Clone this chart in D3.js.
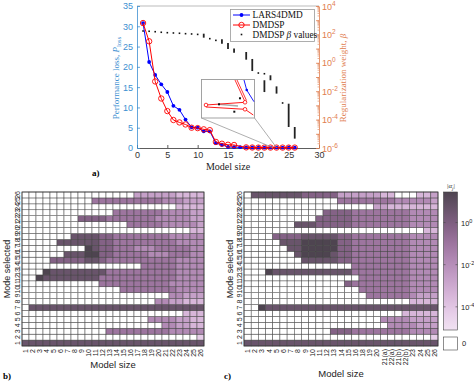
<!DOCTYPE html>
<html><head><meta charset="utf-8">
<script src="https://cdn.jsdelivr.net/npm/d3@7"></script>
<style>body{margin:0;background:#fff}svg{display:block}</style>
</head><body><svg id="c" width="474" height="382"></svg>
<script>
// ---------------- DATA ----------------
const larsSizes = [1,2,3,4,5,6,7,8,9,10,11,12,13,14,15,16,17,18,19,20,21,22,23,24,25,26];
const larsLoss  = [30.8,21.2,18.0,15.7,13.8,10.4,9.4,7.0,5.1,5.0,4.1,4.1,1.2,0.8,0.25,0.2,0.2,0.15,0.12,0.1,0.1,0.1,0.1,0.1,0.1,0.1];
const dmdspSizes = [1,2,3,4,5,6,7,8,9,10,11,12,13,14,15,16,18,19,20,21,22,23,24,25,26];
const dmdspLoss  = [30.8,26.3,16.4,12.2,9.1,6.9,6.3,5.8,5.0,4.9,4.6,4.4,1.5,1.05,0.8,0.74,0.15,0.12,0.1,0.1,0.1,0.1,0.1,0.1,0.1];
// DMDSP beta values (log10), range per model size
const betaSizes = [1,2,3,4,5,6,7,8,9,10,11,12,13,14,15,16,18,19,20,21,21,22,23,24,25,26];
const betaLogHi = [2.24,2.22,2.19,2.15,2.12,2.10,2.08,2.05,2.03,2.00,2.05,1.70,1.58,1.65,1.39,1.00,0.76,0.27,-0.72,-0.77,-1.23,-0.88,-1.66,-2.83,-2.88,-4.52];
const betaLogLo = [2.24,2.22,2.19,2.15,2.12,2.10,2.08,2.05,2.03,2.00,1.77,1.70,1.58,1.35,0.97,0.71,0.22,-0.58,-0.72,-0.77,-2.06,-1.23,-2.17,-2.83,-4.52,-5.34];
const xTicks = [0,5,10,15,20,25,30];
const yTicks = [0,5,10,15,20,25,30,35];
const betaTickExp = [4,2,0,-2,-4,-6];
// inset (magnified view, local units 0..100)
const insetBlueX = [80.2,85.3,99];
const insetBlueY = [98.7,72.7,42.3];
const insetRedAX = [63.2,82.1], insetRedAY = [98.7,42.3];
const insetRedBX = [67,84.9],   insetRedBY = [98.7,45.5];
const insetRedCX = [8.5,82.1],  insetRedCY = [33.8,40.8];
const insetRedDX = [8.5,82.1,97.7], insetRedDY = [28.6,22.6,7.8];
const insetBetaX = [33,61.9,72.6], insetBetaY = [35.6,16.4,51.2];
const insetGrayX = [33,68.9], insetGrayY = [35.6,31.2];
const zoomRegionX = [22.4,23.0], zoomRegionY = 0.1;

// heatmaps: modes 1..26; each row = first model-size column with a nonzero amplitude + level string (0 = zero)
const modes = ["1","2","3","4","5","6","7","8","9","10","11","12","13","14","15","16","17","18","19","20","21","22","23","24","25","26"];
const colsB = ["1","2","3","4","5","6","7","8","9","10","11","12","13","14","15","16","17","18","19","20","21","22","23","24","25","26"];
const startB = [1,26,13,21,19,24,2,20,22,15,12,3,4,18,5,7,10,6,8,25,16,9,14,23,11,17];
const levelsB = [
 "88888 88888 88888 88888 88888 8","2","66666 66665 5555","55443 3","55554 433","333",
 "88888 88888 88888 88888 88888","55443 33","55444","66666 66655 55","66666 66666 55555",
 "98888 88886 66666 66666 5555","98888 88886 66666 66665 555","66666 5555",
 "77777 88766 66666 66655 55","88899 77666 66555 66655","98776 66555 66666 55",
 "88888 87766 66666 66555 55","88887 76666 66665 5555","33","66666 55555 4",
 "77776 66666 65555 544","66666 66555 544","3333","66666 66666 55544 4","44444 43333"];
const colsC = ["1","2","3","4","5","6","7","8","9","10","11","12","13","14","15","16","18","19","20","21(a)","22(a)","21(b)","22(b)","23","24","25","26"];
const startC = [1,27,13,21,20,23,3,24,18,17,15,17,4,16,9,8,7,6,5,26,8,11,12,19,14,2];
const levelsC = [
 "88888 88888 88888 88888 88888 88","2","77766 66666 65555","55554 44","55554 444","33333",
 "98888 88888 88888 88888 88888","3333","66666 65444","66666 66555 5","76666 66665 555",
 "66666 66555 5","98888 88888 88666 66666 5555","66666 66655 55","88888 77666 66666 5555",
 "89999 87766 66666 65555","88999 99776 66666 66555 5","88899 99977 66666 66655 55",
 "77778 88887 76666 66665 555","33","88877 77766 66666 65555","77777 66666 66655 55",
 "77776 66666 66555 5","44333 3333","66666 66655 5554","88888 88777 77444 44433 00033 4"];
const cbarTickExp = [0,-2,-4];
const cbarDomainExp = [-5.1,1.45];

// ---------------- STYLE ----------------
const SANS = "'Liberation Sans', Arial, sans-serif";
const SERIF = "'Liberation Serif', 'Times New Roman', serif";
const axBlue = "#3d8fd1", axOrange = "#df7d4f";
const levelColors = ["#ffffff","#f1e2f2","#e6cde8","#d7b6d9","#c5a0c8","#b28ab5","#9d759f","#846286","#69546b","#4e4450"];

const svg = d3.select("#c");

// ---------------- PANEL a ----------------
const x = d3.scaleLinear().domain([0,30]).range([137,319]);
const y = d3.scaleLinear().domain([0,35]).range([148,6]);
const yR = d3.scaleLog().domain([1e-6,1e4]).range([148,6]);
const ga = svg.append("g");
ga.append("line").attr("x1",137).attr("x2",319).attr("y1",6).attr("y2",6).attr("stroke","#aaa").attr("stroke-width",0.8);

const xAx = ga.append("g").attr("transform","translate(0,148)")
  .call(d3.axisBottom(x).tickValues(xTicks).tickSize(-3).tickSizeOuter(0).tickPadding(4));
xAx.selectAll("path,line").attr("stroke","#333").attr("stroke-width",0.8);
xAx.selectAll("text").attr("font-family",SANS).attr("font-size",9).attr("fill","#333");

const yAx = ga.append("g").attr("transform","translate(137,0)")
  .call(d3.axisLeft(y).tickValues(yTicks).tickSize(-3).tickSizeOuter(0).tickPadding(4));
yAx.selectAll("path,line").attr("stroke",axBlue).attr("stroke-width",0.8);
yAx.selectAll("text").attr("font-family",SANS).attr("font-size",9).attr("fill",axBlue);

const minorR = [];
for (let e=-6;e<4;e++) for (let m=2;m<10;m++) minorR.push(m*Math.pow(10,e));
const rAx = ga.append("g").attr("transform","translate(319,0)")
  .call(d3.axisRight(yR).tickValues(betaTickExp.map(e=>Math.pow(10,e)).concat([1e3,1e1,1e-1,1e-3,1e-5])).tickSize(-3).tickSizeOuter(0).tickFormat(""));
rAx.selectAll("path,line").attr("stroke",axOrange).attr("stroke-width",0.8);
ga.append("g").selectAll("line").data(minorR).join("line")
  .attr("x1",319).attr("x2",317.5).attr("y1",d=>yR(d)).attr("y2",d=>yR(d))
  .attr("stroke",axOrange).attr("stroke-width",0.6);
const rl = ga.append("g").selectAll("text").data(betaTickExp).join("text")
  .attr("x",322).attr("y",d=>yR(Math.pow(10,d))+3.5)
  .attr("font-family",SANS).attr("font-size",9).attr("fill",axOrange);
rl.append("tspan").text("10");
rl.append("tspan").attr("dy",-4).attr("font-size",6.5).text(d=>String(d));

// axis labels
const yl = ga.append("text").attr("transform","translate(119,78) rotate(-90)").attr("text-anchor","middle")
  .attr("font-family",SERIF).attr("font-size",9).attr("fill",axBlue);
yl.append("tspan").text("Performance loss, ");
yl.append("tspan").attr("font-style","italic").text("P");
yl.append("tspan").attr("font-size",6.5).attr("dy",2).text("loss");
const rlab = ga.append("text").attr("transform","translate(346,78) rotate(-90)").attr("text-anchor","middle")
  .attr("font-family",SERIF).attr("font-size",9).attr("fill",axOrange);
rlab.append("tspan").text("Regularization weight, ");
rlab.append("tspan").attr("font-style","italic").text("β");
ga.append("text").attr("x",228).attr("y",170).attr("text-anchor","middle").attr("font-family",SERIF).attr("font-size",10).attr("fill","#222").text("Model size");
ga.append("text").attr("x",92).attr("y",176).attr("font-family",SERIF).attr("font-weight","bold").attr("font-size",9).attr("fill","#000").text("a)");

// beta marks
betaSizes.forEach((s,i)=>{
  const yh = yR(Math.pow(10,betaLogHi[i])), yl2 = yR(Math.pow(10,betaLogLo[i]));
  if (Math.abs(yl2-yh) < 1.5) ga.append("rect").attr("x",x(s)-0.8).attr("y",yh-0.8).attr("width",1.6).attr("height",1.6).attr("fill","#111");
  else ga.append("line").attr("x1",x(s)).attr("x2",x(s)).attr("y1",yh).attr("y2",yl2).attr("stroke","#222").attr("stroke-width",1.8);
});

// series
const lineBlue = d3.line().x((d,i)=>x(larsSizes[i])).y(d=>y(d));
const lineRed = d3.line().x((d,i)=>x(dmdspSizes[i])).y(d=>y(d));
ga.append("path").attr("d",lineBlue(larsLoss)).attr("fill","none").attr("stroke","#0000ff").attr("stroke-width",1);
ga.append("g").selectAll("circle").data(larsLoss).join("circle")
  .attr("cx",(d,i)=>x(larsSizes[i])).attr("cy",d=>y(d)).attr("r",1.9).attr("fill","#0000ff");
ga.append("path").attr("d",lineRed(dmdspLoss)).attr("fill","none").attr("stroke","#ff0000").attr("stroke-width",1);
ga.append("g").selectAll("circle").data(dmdspLoss).join("circle")
  .attr("cx",(d,i)=>x(dmdspSizes[i])).attr("cy",d=>y(d)).attr("r",2.7).attr("fill","none").attr("stroke","#ff0000").attr("stroke-width",0.9);

// inset
const ix = d3.scaleLinear().domain([0,100]).range([201.5,254.5]);
const iy = d3.scaleLinear().domain([0,100]).range([118,79.5]);
ga.append("line").attr("x1",201.5).attr("y1",118).attr("x2",x(zoomRegionX[0])).attr("y2",y(zoomRegionY)).attr("stroke","#999").attr("stroke-width",0.8);
ga.append("line").attr("x1",254.5).attr("y1",118).attr("x2",x(zoomRegionX[1])).attr("y2",y(zoomRegionY)).attr("stroke","#999").attr("stroke-width",0.8);
ga.append("rect").attr("x",201.5).attr("y",79.5).attr("width",53).attr("height",38.5).attr("fill","#fff").attr("stroke","#999").attr("stroke-width",0.9);
const il = (xs,ys,col,w)=>ga.append("path").attr("d",d3.line().x((d,i)=>ix(xs[i])).y(d=>iy(d))(ys)).attr("fill","none").attr("stroke",col).attr("stroke-width",w);
il(insetGrayX,insetGrayY,"#aaa",1.5);
il(insetBlueX,insetBlueY,"#0000ff",0.9);
ga.append("circle").attr("cx",ix(insetBlueX[1])).attr("cy",iy(insetBlueY[1])).attr("r",1.3).attr("fill","#0000ff");
il(insetRedAX,insetRedAY,"#ff0000",0.8);
il(insetRedBX,insetRedBY,"#ff0000",0.8);
il(insetRedCX,insetRedCY,"#ff0000",0.9);
il(insetRedDX,insetRedDY,"#ff0000",0.9);
[[insetRedCX[0],insetRedCY[0]],[insetRedCX[1],insetRedCY[1]],[insetRedDX[1],insetRedDY[1]]].forEach(p=>
  ga.append("circle").attr("cx",ix(p[0])).attr("cy",iy(p[1])).attr("r",1.8).attr("fill","#fff").attr("stroke","#ff0000").attr("stroke-width",0.8));
insetBetaX.forEach((v,i)=>ga.append("rect").attr("x",ix(v)-1).attr("y",iy(insetBetaY[i])-1).attr("width",2).attr("height",2).attr("fill","#111"));

// legend
const lg = ga.append("g");
lg.append("rect").attr("x",230.5).attr("y",9.5).attr("width",84).attr("height",32).attr("fill","#fff").attr("stroke","#999").attr("stroke-width",0.8);
const legItems = ["LARS4DMD","DMDSP","DMDSP "];
[15,25,34.5].forEach((ly,i)=>{
  if (i<2) lg.append("line").attr("x1",233).attr("x2",250).attr("y1",ly).attr("y2",ly).attr("stroke",i==0?"#0000ff":"#ff0000").attr("stroke-width",1);
  if (i==0) lg.append("circle").attr("cx",241.5).attr("cy",ly).attr("r",1.9).attr("fill","#0000ff");
  if (i==1) lg.append("circle").attr("cx",241.5).attr("cy",ly).attr("r",2.7).attr("fill","none").attr("stroke","#ff0000").attr("stroke-width",0.9);
  if (i==2) lg.append("rect").attr("x",240.7).attr("y",ly-0.8).attr("width",1.6).attr("height",1.6).attr("fill","#111");
  const t = lg.append("text").attr("x",252.5).attr("y",ly+3).attr("font-family",SERIF).attr("font-size",9.3).attr("fill","#111").text(legItems[i]);
  if (i==2){ t.append("tspan").attr("font-style","italic").text("β"); t.append("tspan").text(" values"); }
});

// ---------------- HEATMAPS ----------------
const yH = d3.scaleBand().domain(modes).range([346,192]);
function heat(cols, starts, levels, x0, x1, ylabX, labX, tag, tagX, msY){
  const xH = d3.scaleBand().domain(cols).range([x0,x1]);
  const g = svg.append("g");
  const cells = [];
  modes.forEach((m,i)=>{
    const lv = levels[i].replace(/ /g,"");
    cols.forEach((c,j)=>{
      const k = j+1-starts[i];
      const L = (k>=0 && k<lv.length) ? +lv[k] : 0;
      cells.push({m,c,L});
    });
  });
  g.selectAll("rect").data(cells).join("rect")
    .attr("x",d=>xH(d.c)).attr("y",d=>yH(d.m)).attr("width",xH.bandwidth()).attr("height",yH.bandwidth())
    .attr("fill",d=>levelColors[d.L]).attr("stroke","#444").attr("stroke-width",0.5);
  g.append("rect").attr("x",x0).attr("y",192).attr("width",x1-x0).attr("height",154).attr("fill","none").attr("stroke","#333").attr("stroke-width",0.7);
  g.selectAll("text.yt").data(modes).join("text").attr("class","yt")
    .attr("transform",d=>`translate(${labX},${yH(d)+yH.bandwidth()/2}) rotate(-90)`)
    .attr("text-anchor","middle").attr("font-family",SANS).attr("font-size",7).attr("fill","#222").text(d=>d);
  g.selectAll("text.xt").data(cols).join("text").attr("class","xt")
    .attr("transform",d=>`translate(${xH(d)+xH.bandwidth()/2+2.5},349) rotate(-90)`)
    .attr("text-anchor","end").attr("font-family",SANS).attr("font-size",7).attr("fill","#222").text(d=>d);
  g.append("text").attr("transform",`translate(${ylabX},269) rotate(-90)`).attr("text-anchor","middle")
    .attr("font-family",SANS).attr("font-size",9).attr("fill","#222").text("Mode selected");
  g.append("text").attr("x",(x0+x1)/2).attr("y",msY).attr("text-anchor","middle")
    .attr("font-family",SANS).attr("font-size",9.5).attr("fill","#222").text("Model size");
  g.append("text").attr("x",tagX).attr("y",379).attr("font-family",SERIF).attr("font-weight","bold").attr("font-size",9).attr("fill","#000").text(tag);
}
heat(colsB, startB, levelsB, 22, 204, 10, 19.5, "b)", 3, 368);
heat(colsC, startC, levelsC, 244, 438, 233, 241.5, "c)", 224, 377);

// colorbar
const cb = d3.scaleLinear().domain(cbarDomainExp).range([330,192]);
const defs = svg.append("defs");
const grad = defs.append("linearGradient").attr("id","cbg").attr("x1",0).attr("x2",0).attr("y1",1).attr("y2",0);
levelColors.slice(1).forEach((c,i)=>grad.append("stop").attr("offset",i/8).attr("stop-color",c));
svg.append("rect").attr("x",443.5).attr("y",192).attr("width",14).attr("height",138).attr("fill","url(#cbg)").attr("stroke","#444").attr("stroke-width",0.6);
const cbt = svg.append("g").selectAll("g").data(cbarTickExp).join("g");
cbt.append("line").attr("x1",443.5).attr("x2",445.5).attr("y1",d=>cb(d)).attr("y2",d=>cb(d)).attr("stroke","#444").attr("stroke-width",0.6);
cbt.append("line").attr("x1",455.5).attr("x2",457.5).attr("y1",d=>cb(d)).attr("y2",d=>cb(d)).attr("stroke","#444").attr("stroke-width",0.6);
const cbl = cbt.append("text").attr("x",461).attr("y",d=>cb(d)+3.5).attr("font-family",SANS).attr("font-size",7.5).attr("fill","#222");
cbl.append("tspan").text("10");
cbl.append("tspan").attr("dy",-3.5).attr("font-size",5.5).text(d=>String(d));
const al = svg.append("text").attr("x",447).attr("y",188).attr("font-family",SERIF).attr("font-size",7).attr("fill","#333");
al.append("tspan").text("|");
al.append("tspan").attr("font-style","italic").text("α");
al.append("tspan").attr("font-size",5).attr("dy",1.5).attr("font-style","italic").text("j");
al.append("tspan").attr("dy",-1.5).text("|");
svg.append("rect").attr("x",443.5).attr("y",337).attr("width",14).attr("height",13).attr("fill","#fff").attr("stroke","#444").attr("stroke-width",0.6);
svg.append("text").attr("x",462).attr("y",346).attr("font-family",SANS).attr("font-size",7.5).attr("fill","#222").text("0");
</script></body></html>
